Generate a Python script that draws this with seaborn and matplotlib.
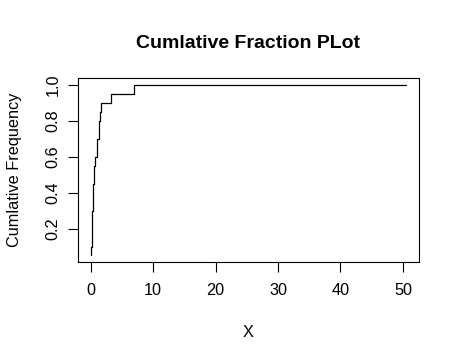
import matplotlib
matplotlib.use("Agg")
import matplotlib.pyplot as plt
import seaborn as sns
import pandas as pd

# Data (sorted x values and cumulative fraction)
x_values = [0.05, 0.1, 0.15, 0.2, 0.25, 0.3, 0.35, 0.4, 0.45, 0.53, 0.74,
            1.0, 1.28, 1.5, 1.65, 3.2, 6.95, 50.5]
cum_frac = [0.05, 0.1, 0.15, 0.2, 0.25, 0.3, 0.35, 0.4, 0.45, 0.55, 0.6,
            0.7, 0.8, 0.85, 0.9, 0.95, 1.0, 1.0]
x_ticks = [0, 10, 20, 30, 40, 50]
y_ticks = [0.2, 0.4, 0.6, 0.8, 1.0]
title = "Cumlative Fraction PLot"
xlabel = "X"
ylabel = "Cumlative Frequency"

sns.set_style("ticks")
plt.rcParams['font.family'] = ['Liberation Sans', 'DejaVu Sans']
plt.rcParams['text.color'] = 'black'
plt.rcParams['xtick.color'] = 'black'
plt.rcParams['ytick.color'] = 'black'

df = pd.DataFrame({"x": x_values, "y": cum_frac})

fig = plt.figure(figsize=(4.59, 3.61), dpi=100)
ax = fig.add_axes([78.3 / 459, 1 - 262.3 / 361, (418.7 - 78.3) / 459, (262.3 - 78.3) / 361])

sns.lineplot(data=df, x="x", y="y", drawstyle="steps-post", color="black",
             linewidth=0.9, estimator=None, sort=False, ax=ax)

xr = max(x_values) - min(x_values)
yr = max(cum_frac) - min(cum_frac)
ax.set_xlim(min(x_values) - 0.04 * xr, max(x_values) + 0.04 * xr)
ax.set_ylim(min(cum_frac) - 0.04 * yr, max(cum_frac) + 0.04 * yr)

ax.set_xticks(x_ticks)
ax.set_xticklabels([str(t) for t in x_ticks])
ax.set_yticks(y_ticks)
ax.set_yticklabels([f"{t:.1f}" for t in y_ticks], rotation=90, va="center")

for s in ax.spines.values():
    s.set_visible(True)
    s.set_linewidth(0.8)
    s.set_color("black")

fs = 11.7
ax.tick_params(axis="both", length=7.2, width=0.8, color="black",
               labelsize=fs, labelcolor="black")
ax.tick_params(axis="x", pad=8)
ax.tick_params(axis="y", pad=5.5)

ax.set_xlabel("")
ax.set_ylabel("")
fig.text(248.5 / 459, 1 - 337.3 / 361, xlabel, ha="center", va="baseline", fontsize=fs)
fig.text(15 / 459, 1 - 170.3 / 361, ylabel, ha="center", va="center", rotation=90, fontsize=fs)
fig.text(248.5 / 459, 1 - 47.7 / 361, title, ha="center", va="baseline", fontsize=14,
         fontweight="bold")

fig.savefig("out.png", dpi=100)
